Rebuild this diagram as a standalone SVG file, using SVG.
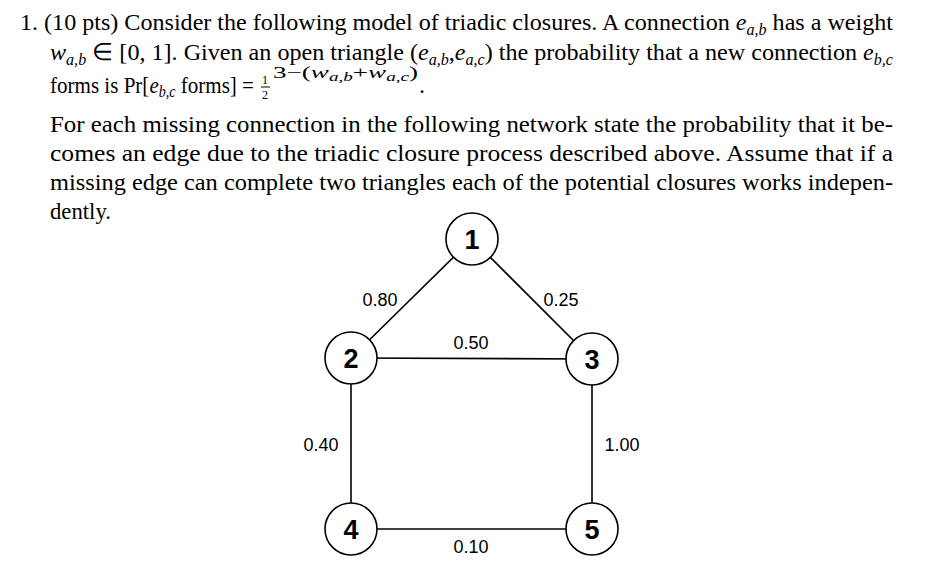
<svg xmlns="http://www.w3.org/2000/svg" width="941" height="577" viewBox="0 0 941 577">
<style>
.t{font-family:"Liberation Serif",serif;font-size:24px;fill:#000}
.i{font-style:italic}
.s{font-size:16px;font-style:italic}
.n{font-family:"Liberation Sans",Arial,sans-serif;font-size:27px;font-weight:bold;text-anchor:middle}
.l{font-family:"Liberation Sans",Arial,sans-serif;font-size:18px;text-anchor:middle}
circle{fill:#fff;stroke:#000;stroke-width:1.6}
line{stroke:#000;stroke-width:1.6}
</style>
<rect width="941" height="577" fill="#fff"/>
<text class="t" x="20" y="30" textLength="873" lengthAdjust="spacingAndGlyphs">1. (10 pts) Consider the following model of triadic closures. A connection <tspan class="i">e</tspan><tspan class="s" dy="5">a,b</tspan><tspan dy="-5"> has a weight</tspan></text>
<text class="t" x="50" y="60" textLength="843" lengthAdjust="spacingAndGlyphs"><tspan class="i">w</tspan><tspan class="s" dy="5">a,b</tspan><tspan dy="-5"> ∈ [0, 1]. Given an open triangle (</tspan><tspan class="i">e</tspan><tspan class="s" dy="5">a,b</tspan><tspan dy="-5">,</tspan><tspan class="i">e</tspan><tspan class="s" dy="5">a,c</tspan><tspan dy="-5">) the probability that a new connection </tspan><tspan class="i">e</tspan><tspan class="s" dy="5">b,c</tspan></text>
<text class="t" x="50" y="93" textLength="204" lengthAdjust="spacingAndGlyphs">forms is Pr[<tspan class="i">e</tspan><tspan class="s" dy="4">b,c</tspan><tspan dy="-4"> forms] =</tspan></text>
<text class="t" x="262" y="84" style="font-size:12px">1</text>
<line x1="261" y1="87" x2="270" y2="87" style="stroke-width:1"/>
<text class="t" x="262" y="99" style="font-size:12px">2</text>
<text class="t" x="273" y="78" style="font-size:17px" textLength="145" lengthAdjust="spacingAndGlyphs">3−(<tspan class="i">w</tspan><tspan dy="3" style="font-size:12px;font-style:italic">a,b</tspan><tspan dy="-3">+</tspan><tspan class="i">w</tspan><tspan dy="3" style="font-size:12px;font-style:italic">a,c</tspan><tspan dy="-3">)</tspan></text>
<text class="t" x="419" y="93">.</text>
<text class="t" x="50" y="132" textLength="843" lengthAdjust="spacingAndGlyphs">For each missing connection in the following network state the probability that it be-</text>
<text class="t" x="50" y="161" textLength="843" lengthAdjust="spacingAndGlyphs">comes an edge due to the triadic closure process described above.  Assume that if a</text>
<text class="t" x="50" y="190" textLength="843" lengthAdjust="spacingAndGlyphs">missing edge can complete two triangles each of the potential closures works indepen-</text>
<text class="t" x="50" y="219" textLength="61" lengthAdjust="spacingAndGlyphs">dently.</text>
<g id="edges">
<line x1="472" y1="239" x2="351" y2="358"/>
<line x1="472" y1="239" x2="592" y2="359"/>
<line x1="351" y1="358" x2="592" y2="359"/>
<line x1="351" y1="358" x2="351" y2="529"/>
<line x1="592" y1="359" x2="592" y2="529"/>
<line x1="351" y1="529" x2="592" y2="529"/>
<text class="l" x="380" y="306">0.80</text>
<text class="l" x="561" y="306">0.25</text>
<text class="l" x="471" y="349">0.50</text>
<text class="l" x="321" y="451">0.40</text>
<text class="l" x="622" y="451">1.00</text>
<text class="l" x="471" y="553">0.10</text>
</g>
<g id="n1"><circle cx="472" cy="239" r="26"/><text class="n" x="472" y="249">1</text></g>
<g id="n2"><circle cx="351" cy="358" r="26"/><text class="n" x="351" y="368">2</text></g>
<g id="n3"><circle cx="592" cy="359" r="26"/><text class="n" x="592" y="369">3</text></g>
<g id="n4"><circle cx="351" cy="529" r="26"/><text class="n" x="351" y="539">4</text></g>
<g id="n5"><circle cx="592" cy="529" r="26"/><text class="n" x="592" y="539">5</text></g>
</svg>
